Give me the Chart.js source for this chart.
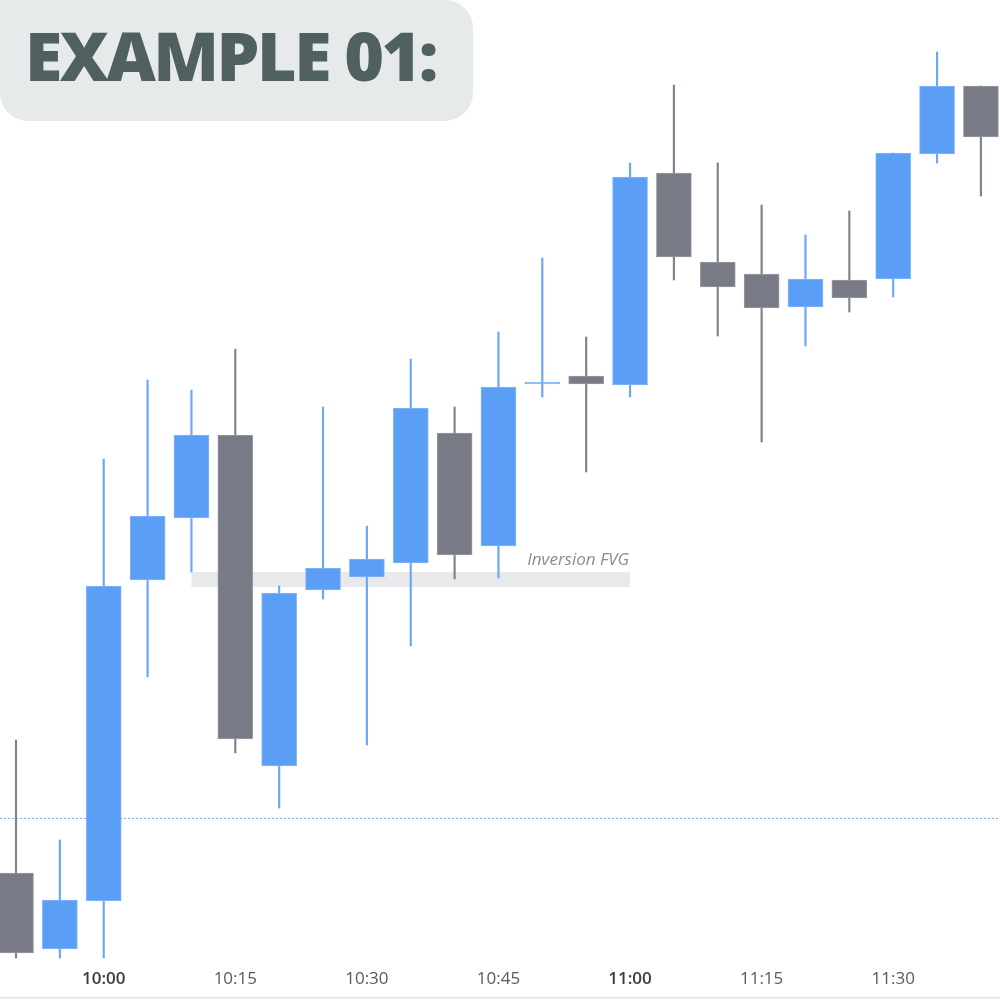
<!DOCTYPE html>
<html>
<head>
<meta charset="utf-8">
<script src="https://cdn.jsdelivr.net/npm/chart.js@4.4.1/dist/chart.umd.min.js"></script>
<style>
  html, body { margin: 0; padding: 0; background: #ffffff; }
  #wrap { position: relative; width: 1000px; height: 1000px; overflow: hidden; }
  #c { position: absolute; left: 0; top: 0; }
  #title {
    position: absolute; left: 0; top: 0; width: 473px; height: 121px;
    background: #e7eaea; border-radius: 0 28px 28px 28px;
  }
  #title span {
    position: absolute; left: 25px; top: 21px;
    font-family: "Open Sans", sans-serif; font-weight: 800; font-size: 68px; line-height: 68px;
    color: #4f605e; letter-spacing: -2.5px; white-space: nowrap;
  }
</style>
</head>
<body>
<div id="wrap">
  <canvas id="c" width="1000" height="1000"></canvas>
  <div id="title"><span>EXAMPLE 01:</span></div>
</div>
<script>
// ---- data ----
const times = ["09:50","09:55","10:00","10:05","10:10","10:15","10:20","10:25","10:30","10:35","10:40","10:45",
               "10:50","10:55","11:00","11:05","11:10","11:15","11:20","11:25","11:30","11:35","11:40"];
const openP  = [5012.7,5005.1,5009.9,5042.0,5048.2,5056.5,5023.4,5041.0,5042.3,5043.7,5056.7,5045.4,
                5061.6,5062.4,5061.5,5082.7,5073.8,5072.6,5069.3,5072.0,5072.1,5084.6,5091.4];
const highP  = [5026.0,5016.0,5054.1,5062.0,5061.0,5065.1,5041.4,5059.3,5047.4,5064.1,5059.3,5066.8,
                5074.2,5066.3,5083.7,5091.5,5083.7,5079.5,5076.5,5078.9,5084.7,5094.8,5091.4];
const lowP   = [5004.2,5004.2,5004.2,5032.3,5042.8,5024.7,5019.2,5040.1,5025.5,5035.4,5042.1,5042.2,
                5060.3,5052.8,5060.3,5072.0,5066.4,5055.8,5065.4,5068.8,5070.3,5083.7,5080.4];
const closeP = [5004.7,5010.0,5041.4,5048.4,5056.5,5026.1,5040.7,5043.2,5044.1,5059.2,5044.5,5061.3,
                5061.7,5061.6,5082.3,5074.3,5071.3,5069.2,5072.1,5070.2,5084.7,5091.4,5086.3];
const tickTimes = ["10:00","10:15","10:30","10:45","11:00","11:15","11:30"];
const boldTicks = ["10:00","11:00"];
const dottedLevel = 5018.2;
const fvgLow = 5041.3, fvgHigh = 5042.8;
const fvgStart = "10:10", fvgEnd = "11:00";
const fvgLabel = "Inversion FVG";

// ---- styles ----
const UP = "#5b9ef5", UP_EDGE = "#85b6f7", UP_WICK = "#6aa7f6";
const DN = "#787a85", DN_EDGE = "#9a9ca5", DN_WICK = "#80828c";
const isUp = i => closeP[i] >= openP[i];
const isBold = ctx => !!(ctx && ctx.tick && boldTicks.includes(times[ctx.tick.value]));

const bodies = times.map((t, i) => ({ x: i, y: [openP[i], closeP[i]] }));
const wicks  = times.map((t, i) => ({ x: i, y: [lowP[i], highP[i]] }));

const overlay = {
  id: "overlay",
  beforeDatasetsDraw(chart) {
    const { ctx, scales: { x, y } } = chart;
    ctx.save();
    // FVG zone
    const x0 = x.getPixelForValue(times.indexOf(fvgStart));
    const x1 = x.getPixelForValue(times.indexOf(fvgEnd));
    const yT = y.getPixelForValue(fvgHigh), yB = y.getPixelForValue(fvgLow);
    ctx.fillStyle = "#e8e9eb";
    ctx.fillRect(x0, yT, x1 - x0, yB - yT);
    ctx.font = "italic 17px 'Open Sans', sans-serif";
    ctx.fillStyle = "#8a8c92";
    ctx.textAlign = "right";
    ctx.textBaseline = "alphabetic";
    ctx.fillText(fvgLabel, x1 - 1, yT - 7);
    // dotted level
    const yd = Math.round(y.getPixelForValue(dottedLevel)) + 0.5;
    ctx.strokeStyle = "#7aa8ee";
    ctx.lineWidth = 1;
    ctx.setLineDash([2, 2]);
    ctx.beginPath();
    ctx.moveTo(0, yd);
    ctx.lineTo(chart.width, yd);
    ctx.stroke();
    ctx.restore();
  },
  afterDraw(chart) {
    const { ctx } = chart;
    ctx.save();
    ctx.fillStyle = "#e2e2f2";
    ctx.fillRect(0, 997, chart.width, 1.5);
    ctx.restore();
  }
};

new Chart(document.getElementById("c"), {
  type: "bar",
  data: {
    datasets: [
      {
        label: "body",
        data: bodies,
        grouped: false,
        barThickness: 35,
        minBarLength: 2,
        backgroundColor: times.map((t, i) => isUp(i) ? UP : DN),
        borderColor: times.map((t, i) => isUp(i) ? UP_EDGE : DN_EDGE),
        borderWidth: 1,
        borderSkipped: false
      },
      {
        label: "wick",
        data: wicks,
        grouped: false,
        barThickness: 1.5,
        backgroundColor: times.map((t, i) => isUp(i) ? UP_WICK : DN_WICK),
        borderWidth: 0
      }
    ]
  },
  options: {
    responsive: false,
    animation: false,
    devicePixelRatio: 1,
    layout: { padding: 0 },
    plugins: { legend: { display: false }, tooltip: { enabled: false } },
    scales: {
      x: {
        type: "linear",
        offset: false,
        min: -0.365,
        max: 22.435,
        grid: { display: false, offset: false },
        border: { display: false },
        afterBuildTicks(scale) {
          scale.ticks = tickTimes.map(t => ({ value: times.indexOf(t) }));
        },
        afterFit(scale) { scale.height = 40; },
        ticks: {
          autoSkip: false,
          maxRotation: 0,
          padding: 1,
          callback: v => times[v],
          color: ctx => isBold(ctx) ? "#3c3c3c" : "#5a5a5a",
          font: ctx => ({
            family: "'Open Sans', sans-serif",
            size: 17,
            weight: isBold(ctx) ? "600" : "normal"
          })
        }
      },
      y: {
        display: false,
        min: 5004,
        max: 5100
      }
    }
  },
  plugins: [overlay]
});
</script>
</body>
</html>
